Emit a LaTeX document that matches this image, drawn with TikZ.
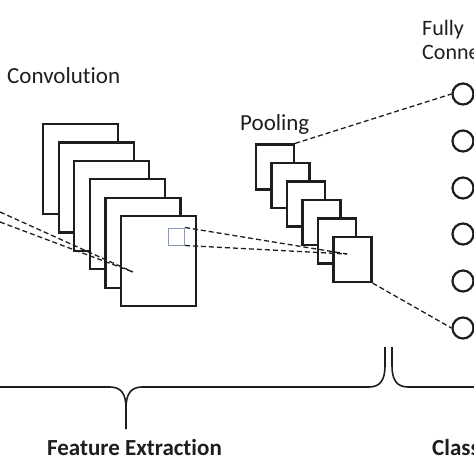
\documentclass[tikz,border=0pt]{standalone}
\usepackage{fontspec}
\setmainfont{Carlito}[Ligatures=NoCommon]
\usetikzlibrary{positioning}
\definecolor{ink}{RGB}{30,30,30}
\definecolor{kernblue}{RGB}{135,155,195}
\tikzset{convsq/.style={draw=ink, fill=white, line width=2.2pt, minimum width=75pt, minimum height=90pt, inner sep=0pt},
  poolsq/.style={draw=ink, fill=white, line width=2.2pt, minimum width=38pt, minimum height=45pt, inner sep=0pt},
  unit/.style={draw=ink, circle, line width=2.2pt, minimum size=21pt, inner sep=0pt},
  link/.style={draw=ink, dash pattern=on 5pt off 3pt, line width=1.3pt},
  bracepath/.style={draw=ink, line width=1.6pt},
  label/.style={text=ink, font=\fontsize{23}{25}\selectfont, inner sep=0pt}}

\begin{document}
\begin{tikzpicture}[x=1pt,y=-1pt]
  \useasboundingbox (0,0) rectangle (474,474);
  \clip (0,0) rectangle (474,474);

  \node[label, anchor=base west] (lconv) at (7, 83) {Convolution};
  \node[label, anchor=base west] (lpool) at (240,130) {Pooling};
  \node[label, anchor=north west, align=left, font=\fontsize{22}{24}\selectfont] (lfc) at (422,20) {Fully\\Connected};

  \node[convsq] (conv1) at ( 80.5,169.0) {};
  \node[convsq] (conv2) at ( 96.1,187.4) {};
  \node[convsq] (conv3) at (111.7,205.8) {};
  \node[convsq] (conv4) at (127.3,224.2) {};
  \node[convsq] (conv5) at (142.9,242.6) {};
  \node[convsq] (conv6) at (158.5,261.0) {};
  \node[draw=kernblue, line width=1pt, minimum width=16pt, minimum height=17pt, inner sep=0pt] (kern) at (176.5,236.5) {};

  \node[poolsq] (pool1) at (275.0,167.0) {};
  \node[poolsq] (pool2) at (290.5,185.5) {};
  \node[poolsq] (pool3) at (306.0,204.0) {};
  \node[poolsq] (pool4) at (321.5,222.5) {};
  \node[poolsq] (pool5) at (337.0,241.0) {};
  \node[poolsq] (pool6) at (352.5,259.5) {};

  \node[unit] (fc1) at (463, 94) {};
  \node[unit] (fc2) at (463,141) {};
  \node[unit] (fc3) at (463,188) {};
  \node[unit] (fc4) at (463,234) {};
  \node[unit] (fc5) at (463,281) {};
  \node[unit] (fc6) at (463,328) {};

  \coordinate (in1) at (0,212);
  \coordinate (in2) at (0,222);
  \coordinate (convhit) at (133,272);
  \coordinate (poolhit) at (347,254);

  \draw[link] (in1) -- (convhit);
  \draw[link] (in2) -- (convhit);
  \draw[link] (kern.north east) -- (poolhit);
  \draw[link] (kern.south east) -- (poolhit);
  \draw[link] (pool1.north east) -- (fc1.west);
  \draw[link] (pool6.south east) -- (fc6.west);

  % braces
  \draw[bracepath]
   (-5,387) -- (110,387) .. controls (121,387) and (126,394) ..
   (126,408) -- (126,429);
  \draw[bracepath]
   (126,408) .. controls (126,394) and (131,387) ..
   (142,387) -- (369,387) .. controls (380,387) and (385,380) ..
   (385,366) -- (385,347);
  \draw[bracepath]
   (392,347) -- (392,366) .. controls (392,380) and (397,387) ..
   (408,387) -- (480,387);

  \node[label, anchor=base, font=\fontsize{23}{25}\selectfont\bfseries] (lfeat) at (134.5,455) {Feature Extraction};
  \node[label, anchor=base west, font=\fontsize{23}{25}\selectfont\bfseries] (lclass) at (432,455) {Classification};
\end{tikzpicture}
\end{document}
